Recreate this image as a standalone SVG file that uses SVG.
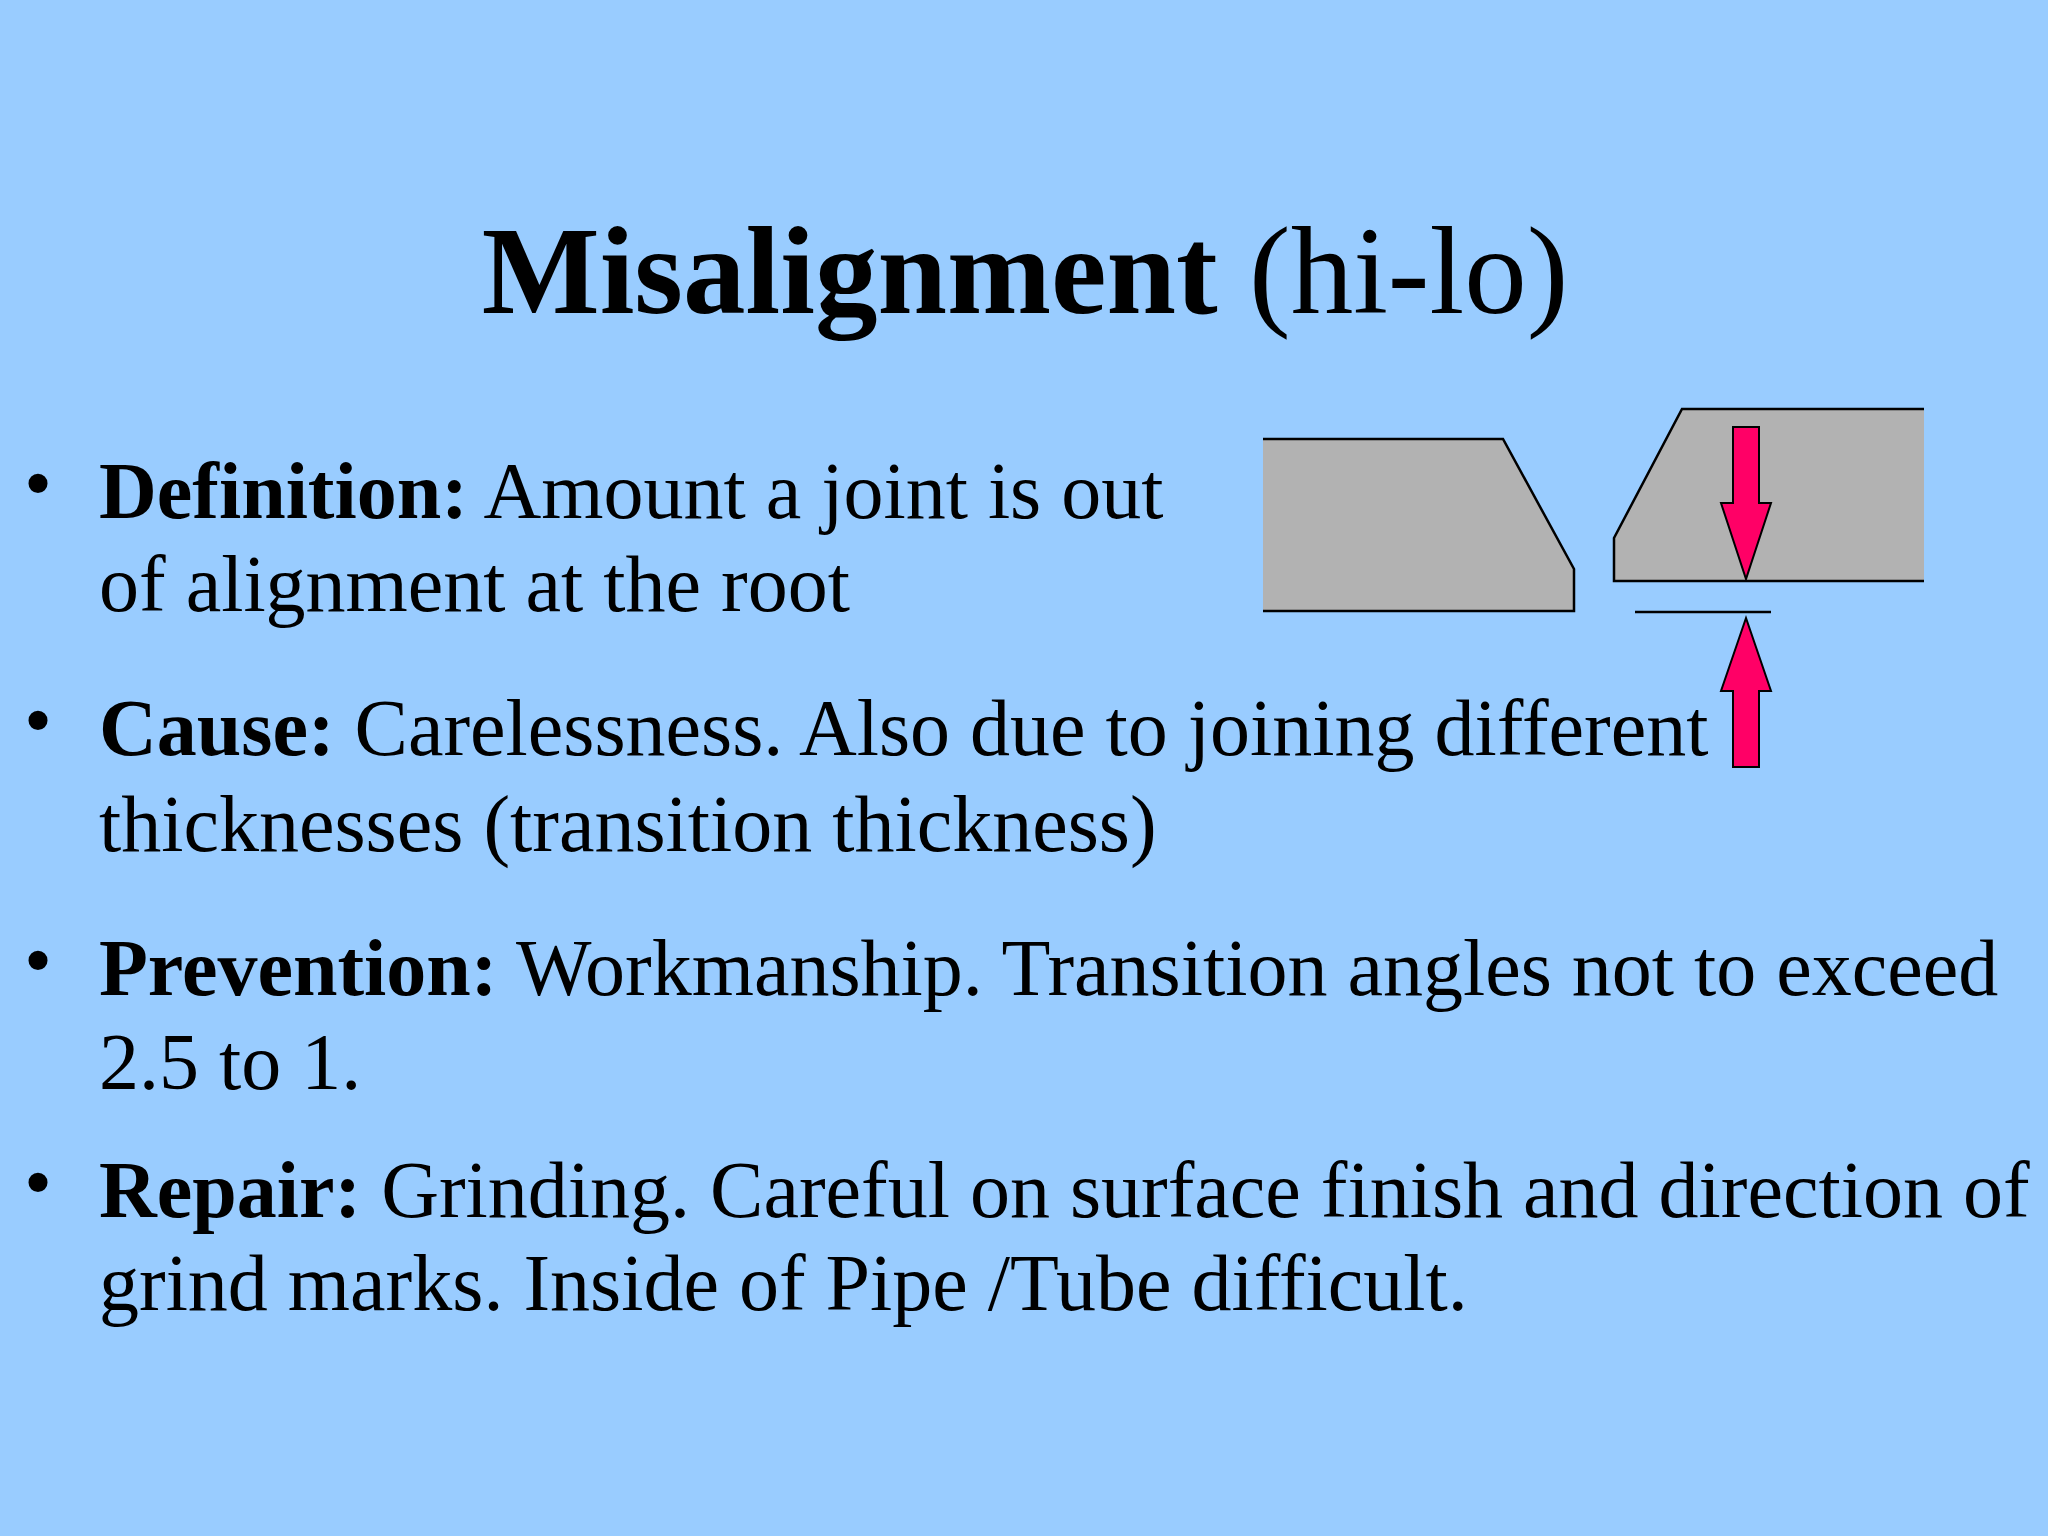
<svg xmlns="http://www.w3.org/2000/svg" width="2048" height="1536" viewBox="0 0 2048 1536">
<style>
text{font-family:"Liberation Serif","Times New Roman",serif;fill:#000}
.b{font-size:80px}
.bul{font-size:80px}
.plate{fill:#B2B2B2;stroke:none}
.edge{fill:none;stroke:#000;stroke-width:2.5}
.arr{fill:#FF0066;stroke:#000;stroke-width:2}
</style>
<rect width="2048" height="1536" fill="#99CCFF"/>
<text x="1025" y="313" font-size="125" text-anchor="middle"><tspan font-weight="bold">Misalignment</tspan> (hi-lo)</text>
<g id="text">
<text class="bul" x="24" y="510">•</text>
<text class="b" x="99" y="518"><tspan font-weight="bold">Definition:</tspan> Amount a joint is out</text>
<text class="b" x="99" y="611">of alignment at the root</text>
<text class="bul" x="24" y="747">•</text>
<text class="b" x="99" y="755"><tspan font-weight="bold">Cause:</tspan> Carelessness. Also due to joining different</text>
<text class="b" x="99" y="851">thicknesses (transition thickness)</text>
<text class="bul" x="24" y="987">•</text>
<text class="b" x="99" y="995"><tspan font-weight="bold">Prevention:</tspan> Workmanship. Transition angles not to exceed</text>
<text class="b" x="99" y="1089">2.5 to 1.</text>
<text class="bul" x="24" y="1209">•</text>
<text class="b" x="99" y="1217"><tspan font-weight="bold">Repair:</tspan> Grinding. Careful on surface finish and direction of</text>
<text class="b" x="99" y="1310">grind marks. Inside of Pipe /Tube difficult.</text>
</g>
<g id="left-plate">
<polygon class="plate" points="1263,439 1503,439 1574,569 1574,611 1263,611"/>
<polyline class="edge" points="1263,439 1503,439 1574,569 1574,611 1263,611"/>
</g>
<g id="right-plate">
<polygon class="plate" points="1924,409 1682,409 1614,538 1614,581 1924,581"/>
<polyline class="edge" points="1924,409 1682,409 1614,538 1614,581 1924,581"/>
<line class="edge" x1="1635" y1="612" x2="1771" y2="612"/>
</g>
<g id="arrows">
<polygon class="arr" points="1733,427 1759,427 1759,503 1771,503 1746,579 1721,503 1733,503"/>
<polygon class="arr" points="1746,618 1771,691 1759,691 1759,767 1733,767 1733,691 1721,691"/>
</g>
</svg>
